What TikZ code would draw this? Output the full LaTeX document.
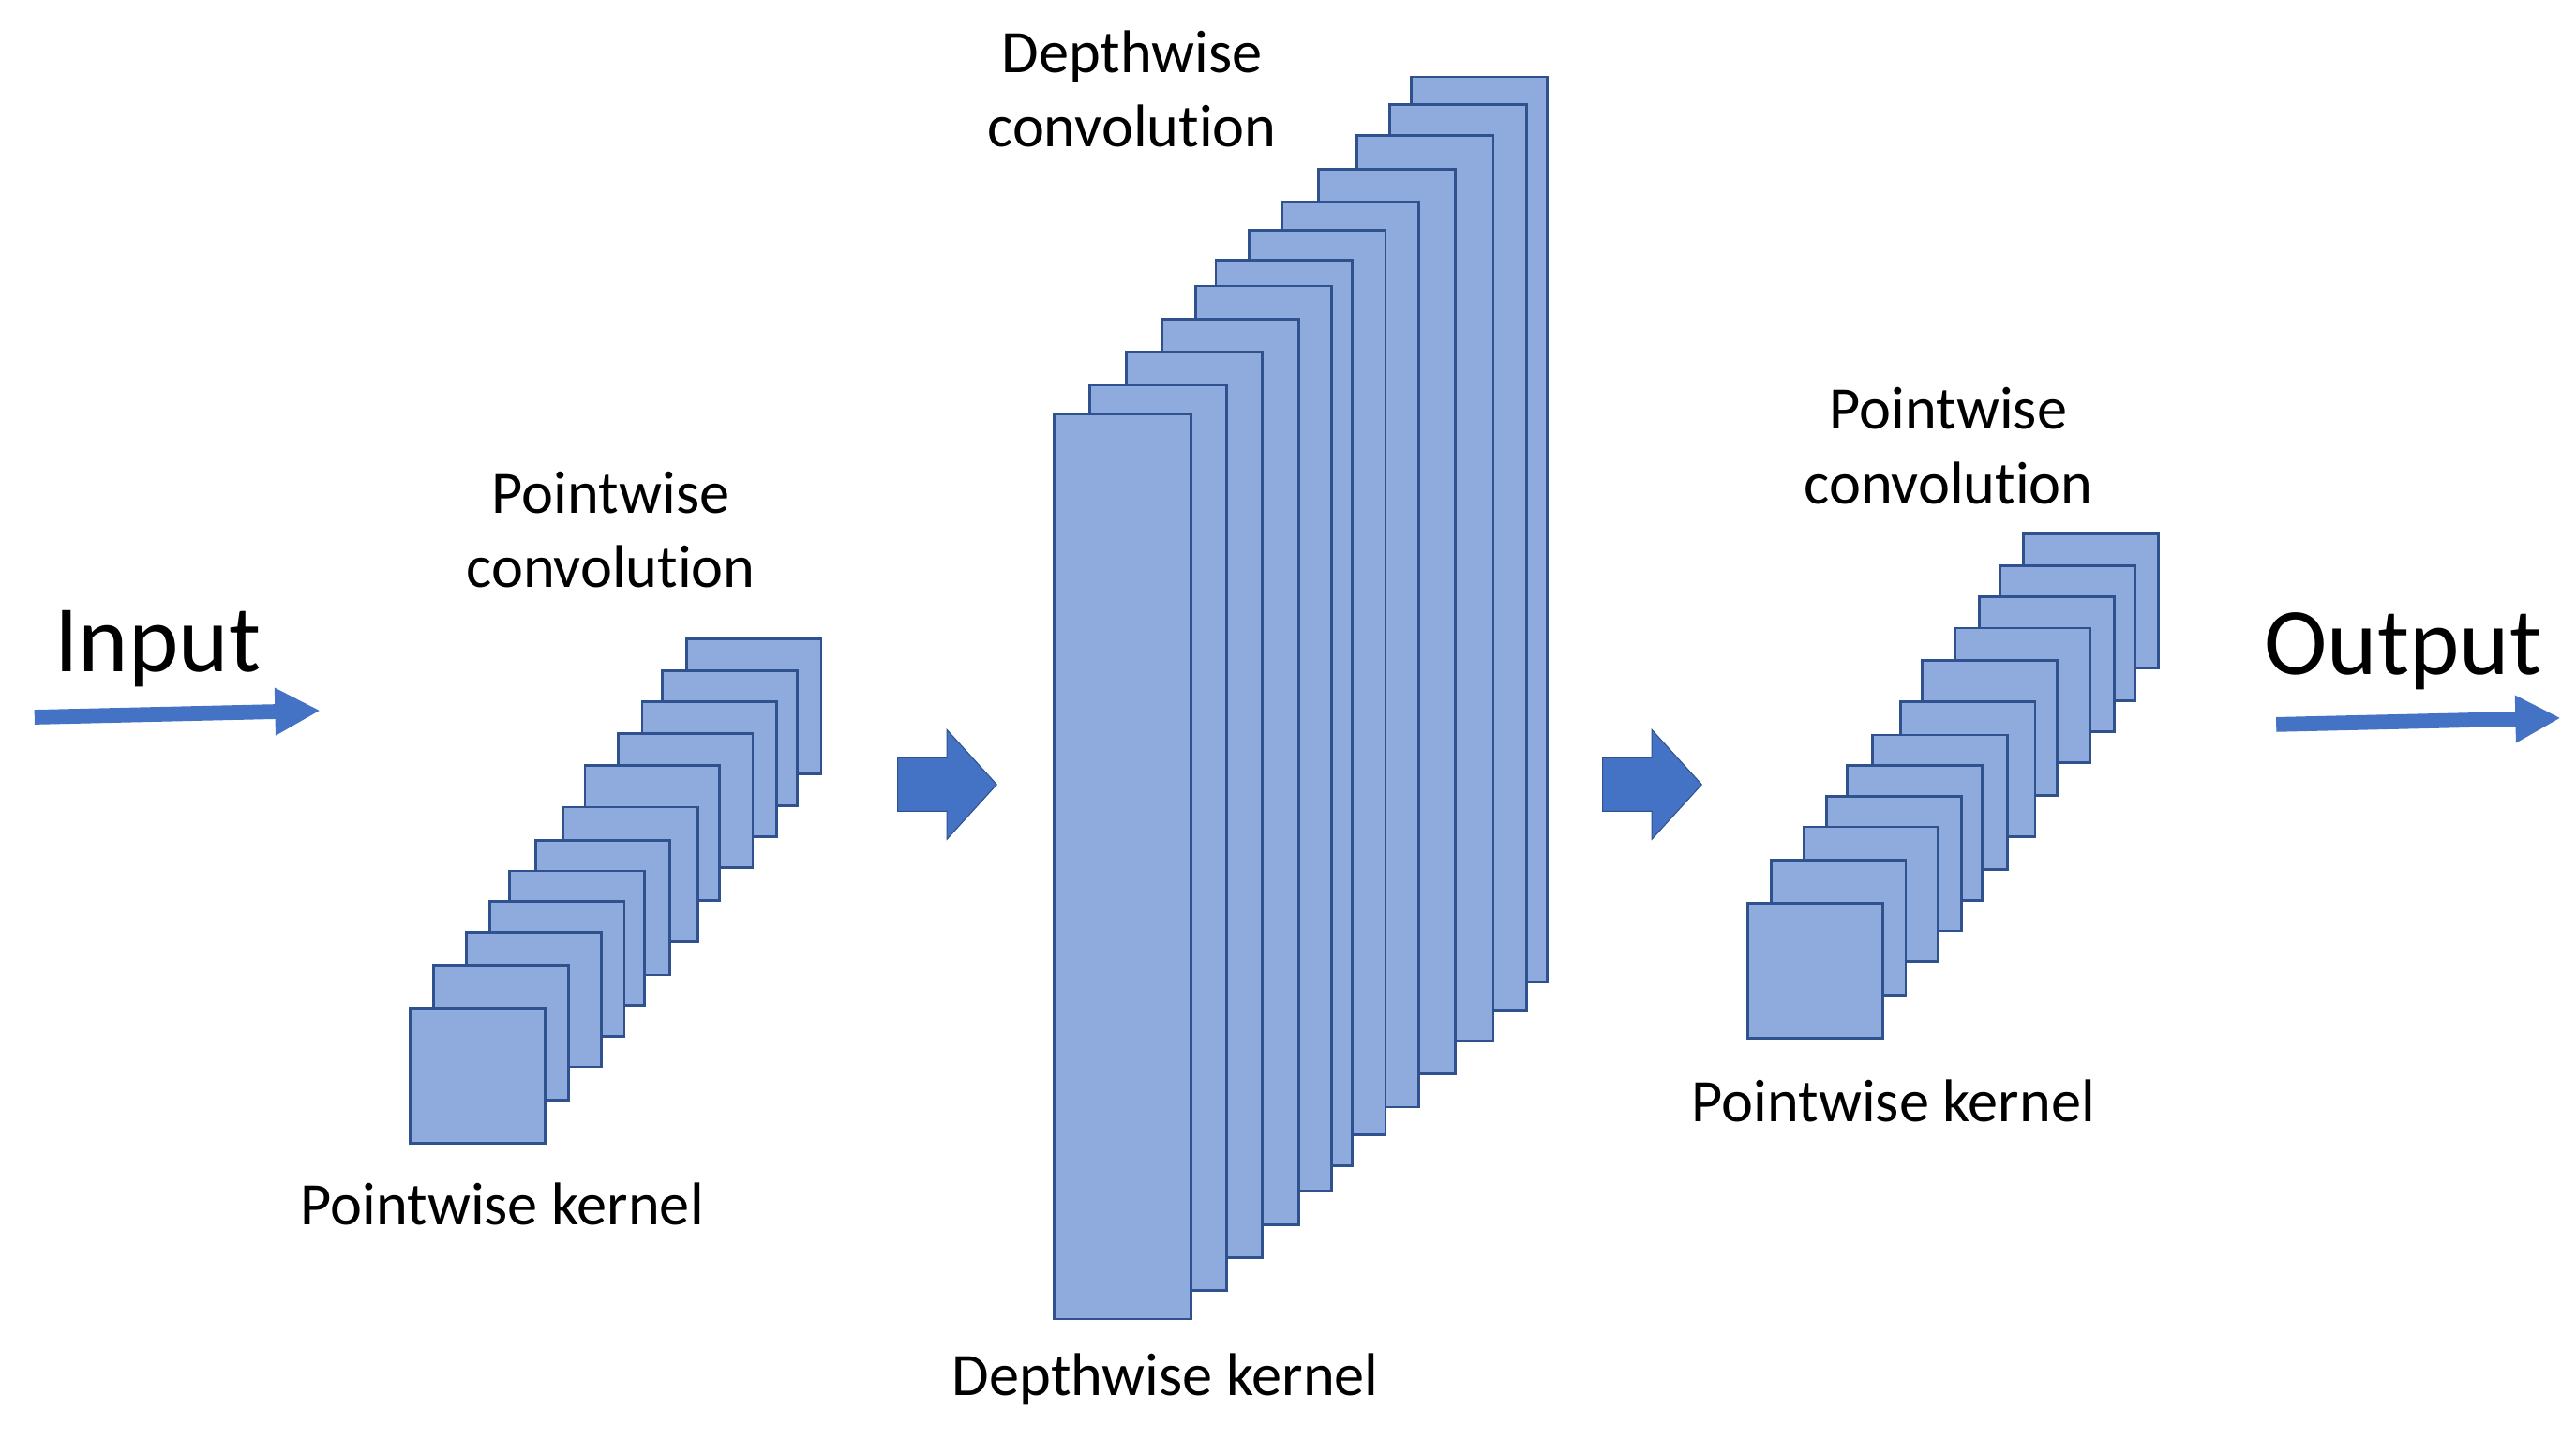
\documentclass[tikz,border=0pt]{standalone}
\usepackage{fontspec}
\setmainfont{Carlito}[Ligatures=NoCommon]
\usepackage{tikz}
\usetikzlibrary{arrows.meta}
\tikzset{>=latex}
\definecolor{kernelfill}{RGB}{143, 170, 220}
\definecolor{kerneledge}{RGB}{47, 82, 143}
\definecolor{arrowblue}{RGB}{68, 114, 196}

\tikzset{
pwbox/.style = {draw = kerneledge, fill = kernelfill, line width = 0.8pt, anchor = north west, inner sep = 0, minimum width = 41pt, minimum height = 41pt},
dwbox/.style = {pwbox, minimum width = 41.5pt, minimum height = 275.5pt},
lbl/.style = {font = \fontsize{18.35pt}{22.65pt}\selectfont, align = center, inner sep = 0},
bigword/.style = {font = \fontsize{29pt}{35pt}\selectfont, inner sep = 0},
thinarrow/.style = {draw = arrowblue, line width = 4.5pt, -{Triangle[length = 13.8pt, width = 13.5pt]}},
blockarrow/.style = {fill = arrowblue, draw = kerneledge, line width = 0.3pt}
}

\begin{document}
\begin{tikzpicture}[x = 0.5pt, y = -0.5pt]
\useasboundingbox (0,0) rectangle (1568,876);

% input
\node[bigword, anchor = base] (input) at (96,408.9) {Input};
\coordinate (in-a) at (21,436.5);
\coordinate (in-b) at (195,432.5);
\draw[thinarrow] (in-a) -- (in-b);

% first pointwise stack, back to front
\foreach \dx/\dy [count=\i] in {168/-225, 153.5/-205.5, 141.1/-186.6, 126.4/-167.5, 106.2/-147.8, 93/-122.5, 76.1/-102.4, 60.5/-83.7, 48.2/-65.2, 34.1/-46.5, 14.2/-26.2, 0/0}{
\node[pwbox] (pwa\i) at ({249 + \dx}, {613 + \dy}) {};
}
% base of a two line label is its last line
\node[lbl, anchor = base] (pwconv-a) at (371.8,357.6) {Pointwise\\convolution};
\node[lbl, anchor = base] (pwkern-a) at (305.7,745.6) {Pointwise kernel};

% block arrows
\foreach \x [count=\i] in {546.4, 975.5}{
\filldraw[blockarrow] (\x, 461.2) -- ++(30,0) -- ++(0,-17) -- ++(30.3,33.3) -- ++(-30.3,33.3) -- ++(0,-17) -- ++(-30,0) -- cycle;
}

% depthwise stack
\foreach \dx/\dy [count=\i] in {217/-205, 204.3/-188.2, 184.1/-169.4, 160.9/-149, 138.7/-128.9, 118.5/-111.9, 98.3/-93.3, 85.8/-77.8, 65.6/-57.5, 43.7/-37.4, 21.7/-17.3, 0/0}{
\node[dwbox] (dw\i) at ({641 + \dx}, {251 + \dy}) {};
}
\node[lbl, anchor = base] (dwconv) at (689,89.4) {Depthwise\\convolution};
\node[lbl, anchor = base] (dwkern) at (709.4,849.2) {Depthwise kernel};

% second pointwise stack
\foreach \dx/\dy [count=\i] in {168/-225, 153.5/-205.5, 141.1/-186.6, 126.4/-167.5, 106.2/-147.8, 93/-122.5, 76.1/-102.4, 60.5/-83.7, 48.2/-65.2, 34.1/-46.5, 14.2/-26.2, 0/0}{
\node[pwbox] (pwb\i) at ({1063 + \dx}, {549 + \dy}) {};
}
\node[lbl, anchor = base] (pwconv-b) at (1186,306.6) {Pointwise\\convolution};
\node[lbl, anchor = base] (pwkern-b) at (1152.5,682.6) {Pointwise kernel};

% output
\node[bigword, anchor = base] (output) at (1462.7,410.4) {Output};
\coordinate (out-a) at (1385.5,441);
\coordinate (out-b) at (1558.7,437);
\draw[thinarrow] (out-a) -- (out-b);

\end{tikzpicture}
\end{document}
